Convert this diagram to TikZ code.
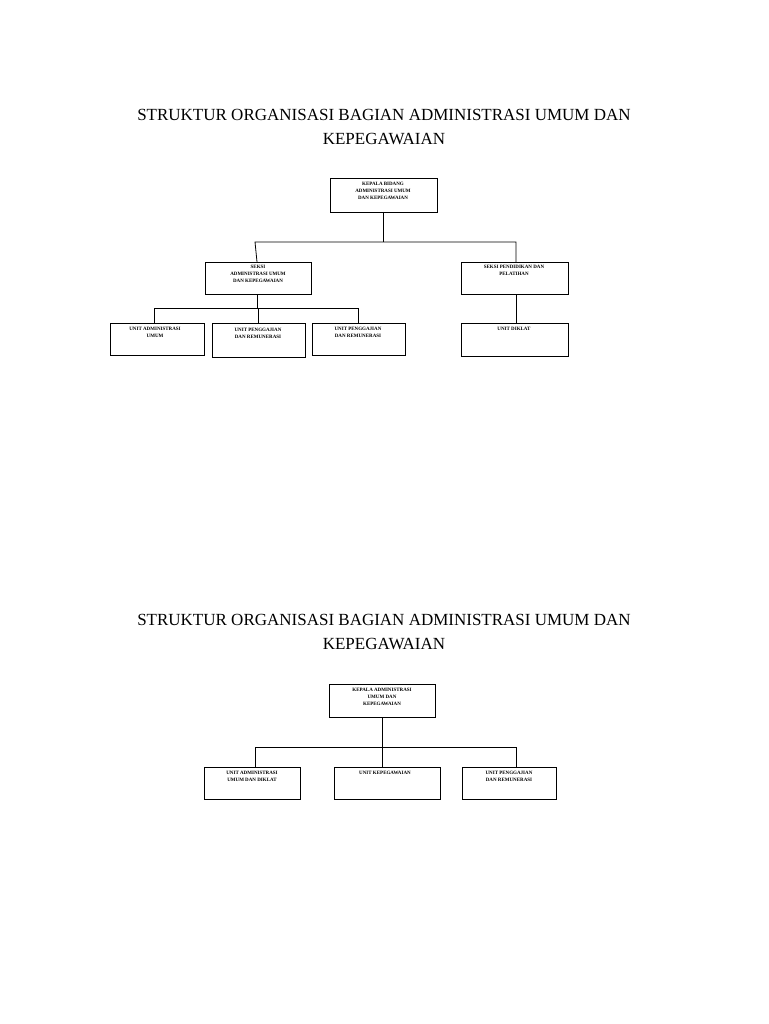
\documentclass[tikz,border=0pt]{standalone}
\usepackage{fontspec}
\setmainfont{Liberation Serif}
\begin{document}
\begin{tikzpicture}[x=1pt,y=-1pt,
  ttl/.style={font=\fontsize{17}{24}\selectfont, align=center, anchor=center},
  lbl/.style={font=\fontsize{5}{7}\selectfont\bfseries, align=center, anchor=north, inner sep=0pt},
  ln/.style={line width=0.8pt}]
\useasboundingbox (0,0) rectangle (768,1024);
\fill[white] (0,0) rectangle (768,1024);
% ---------- chart 1 ----------
\node[ttl] (t1) at (384,127) {STRUKTUR ORGANISASI BAGIAN ADMINISTRASI UMUM DAN\\KEPEGAWAIAN};
\draw[ln] (330,178) rectangle (437,212); \coordinate (k1) at (383,212);
\node[lbl] (k1t) at (383,182) {KEPALA BIDANG\\ADMINISTRASI UMUM\\DAN KEPEGAWAIAN};
\draw[ln] (205,262) rectangle (311,294); \coordinate (s1) at (257,262); \coordinate (s1b) at (257,294);
\node[lbl] (s1t) at (258,265) {SEKSI\\ADMINISTRASI UMUM\\DAN KEPEGAWAIAN};
\draw[ln] (461,262) rectangle (568,294); \coordinate (s2) at (516,262); \coordinate (s2b) at (516,294);
\node[lbl] (s2t) at (514,265) {SEKSI PENDIDIKAN DAN\\PELATIHAN};
\draw[ln] (110,323) rectangle (204,355); \coordinate (u1) at (154,323);
\node[lbl] (u1t) at (155,327) {UNIT ADMINISTRASI\\UMUM};
\draw[ln] (212,323) rectangle (305,357); \coordinate (u2) at (258,323);
\node[lbl] (u2t) at (258,328) {UNIT PENGGAJIAN\\DAN REMUNERASI};
\draw[ln] (312,323) rectangle (405,355); \coordinate (u3) at (358,323);
\node[lbl] (u3t) at (358,327) {UNIT PENGGAJIAN\\DAN REMUNERASI};
\draw[ln] (461,323) rectangle (568,356); \coordinate (u4) at (516,323);
\node[lbl] (u4t) at (514,327) {UNIT DIKLAT};
\draw[ln] (k1) -- (383,242);
\draw[ln] (s1) -- (255,242) -- (516,242) -- (s2);
\draw[ln] (s1b) -- (257,308);
\draw[ln] (u1) -- (154,308) -- (358,308) -- (u3);
\draw[ln] (258,308) -- (u2);
\draw[ln] (s2b) -- (u4);
% ---------- chart 2 ----------
\node[ttl] (t2) at (384,632) {STRUKTUR ORGANISASI BAGIAN ADMINISTRASI UMUM DAN\\KEPEGAWAIAN};
\draw[ln] (329,684) rectangle (435,717); \coordinate (k2) at (382,717);
\node[lbl] (k2t) at (382,688) {KEPALA ADMINISTRASI\\UMUM DAN\\KEPEGAWAIAN};
\draw[ln] (204,767) rectangle (300,799); \coordinate (v1) at (255,767);
\node[lbl] (v1t) at (252,771) {UNIT ADMINISTRASI\\UMUM DAN DIKLAT};
\draw[ln] (334,767) rectangle (440,799); \coordinate (v2) at (382,767);
\node[lbl] (v2t) at (385,771) {UNIT KEPEGAWAIAN};
\draw[ln] (462,767) rectangle (556,799); \coordinate (v3) at (516,767);
\node[lbl] (v3t) at (509,771) {UNIT PENGGAJIAN\\DAN REMUNERASI};
\draw[ln] (k2) -- (v2);
\draw[ln] (v1) -- (255,747) -- (516,747) -- (v3);
\end{tikzpicture}
\end{document}
